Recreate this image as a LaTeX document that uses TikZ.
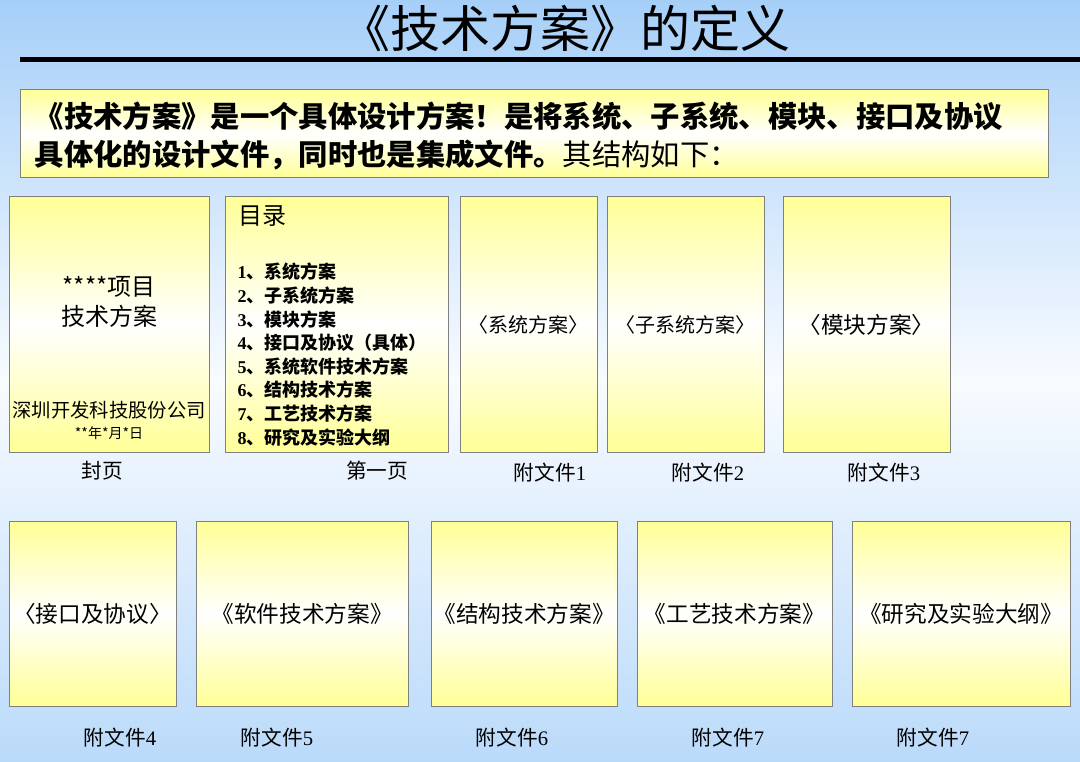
\documentclass[tikz,border=0pt]{standalone}
\usepackage{fontspec}
\setmainfont{Noto Sans CJK SC}
\newfontfamily\latin{Liberation Serif}

\definecolor{bgtop}{RGB}{166,207,248}
\definecolor{bgmid}{RGB}{248,251,255}
\definecolor{bgbot}{RGB}{186,218,250}
\definecolor{paper}{RGB}{255,255,150}
\definecolor{edge}{RGB}{128,128,128}

\tikzset{
  pagebox/.style={rectangle, draw=edge, line width=0.75pt,
    top color=paper, bottom color=paper, middle color=white,
    inner sep=0.5pt},
  caption/.style={font=\fontsize{15.5pt}{18pt}\selectfont},
  boxtext/.style={font=\fontsize{17pt}{21pt}\selectfont}
}

\begin{document}
\begin{tikzpicture}[x=0.75pt, y=-0.75pt]
    \useasboundingbox (0,0) rectangle (1080,762);
    \shade[top color=bgtop, bottom color=bgbot, middle color=bgmid] (0,0) rectangle (1080,762);

    % Title and rule
    \node (title) at (565,28) {\fontsize{37.5pt}{40pt}\selectfont 《技术方案》的定义};
    \draw[line width=3.75pt] (20,60) -- (1080,60);

    % Intro box
    \node[pagebox, minimum width=771pt, minimum height=66pt] (intro) at (534,134) {};
    \node[anchor=west, align=left, font=\fontsize{22pt}{28.5pt}\selectfont\bfseries] (introtext) at (30,136)
        {《技术方案》是一个具体设计方案！是将系统、子系统、模块、接口及协议\\
         具体化的设计文件，同时也是集成文件。{\mdseries 其结构如下：}};

    % First row
    \node[pagebox, minimum width=150pt, minimum height=191.25pt] (cover) at (109,324.5) {};
    \node[align=center, font=\fontsize{18pt}{23pt}\selectfont] (covertitle) at (109,302) {****项目\\技术方案};
    \node[font=\fontsize{14.5pt}{16pt}\selectfont] (covercorp) at (109,410) {深圳开发科技股份公司};
    \node[font=\fontsize{10.5pt}{12pt}\selectfont] (coverdate) at (109,433) {**年*月*日};

    \node[pagebox, minimum width=167.25pt, minimum height=191.25pt] (toc) at (336.5,324.5) {};
    \node[anchor=west, font=\fontsize{18pt}{20pt}\selectfont] (toctitle) at (234,216) {目录};
    \node[anchor=west, align=left, font=\fontsize{13.5pt}{17.7pt}\selectfont\bfseries] (toclist) at (233,354.5)
        {{\latin 1}、系统方案\\
         {\latin 2}、子系统方案\\
         {\latin 3}、模块方案\\
         {\latin 4}、接口及协议（具体）\\
         {\latin 5}、系统软件技术方案\\
         {\latin 6}、结构技术方案\\
         {\latin 7}、工艺技术方案\\
         {\latin 8}、研究及实验大纲};

    \node[pagebox, minimum width=102.75pt, minimum height=191.25pt, font=\fontsize{15pt}{18pt}\selectfont] (f1) at (528.5,324.5) {〈系统方案〉};
    \node[pagebox, minimum width=117.75pt, minimum height=191.25pt, font=\fontsize{15pt}{18pt}\selectfont] (f2) at (685.5,324.5) {〈子系统方案〉};
    \node[pagebox, minimum width=125.25pt, minimum height=191.25pt, font=\fontsize{17pt}{20pt}\selectfont] (f3) at (866.5,324.5) {〈模块方案〉};

    \node[caption] (capcover) at (102,471) {封页};
    \node[caption] (captoc) at (377,471) {第一页};
    \node[caption] (cap1) at (550,473) {附文件{\latin 1}};
    \node[caption] (cap2) at (708,473) {附文件{\latin 2}};
    \node[caption] (cap3) at (884,473) {附文件{\latin 3}};

    % Second row
    \node[pagebox, boxtext, minimum width=125.25pt, minimum height=138.75pt] (f4) at (92.5,613.5) {〈接口及协议〉};
    \node[pagebox, boxtext, minimum width=159pt, minimum height=138.75pt] (f5) at (302,613.5) {《软件技术方案》};
    \node[pagebox, boxtext, minimum width=139.5pt, minimum height=138.75pt] (f6) at (524,613.5) {《结构技术方案》};
    \node[pagebox, boxtext, minimum width=146.25pt, minimum height=138.75pt] (f7) at (734.5,613.5) {《工艺技术方案》};
    \node[pagebox, boxtext, minimum width=163.5pt, minimum height=138.75pt] (f8) at (961,613.5) {《研究及实验大纲》};

    \node[caption] (cap4) at (120,738) {附文件{\latin 4}};
    \node[caption] (cap5) at (277,738) {附文件{\latin 5}};
    \node[caption] (cap6) at (512,738) {附文件{\latin 6}};
    \node[caption] (cap7) at (728,738) {附文件{\latin 7}};
    \node[caption] (cap8) at (933,738) {附文件{\latin 7}};
\end{tikzpicture}
\end{document}
